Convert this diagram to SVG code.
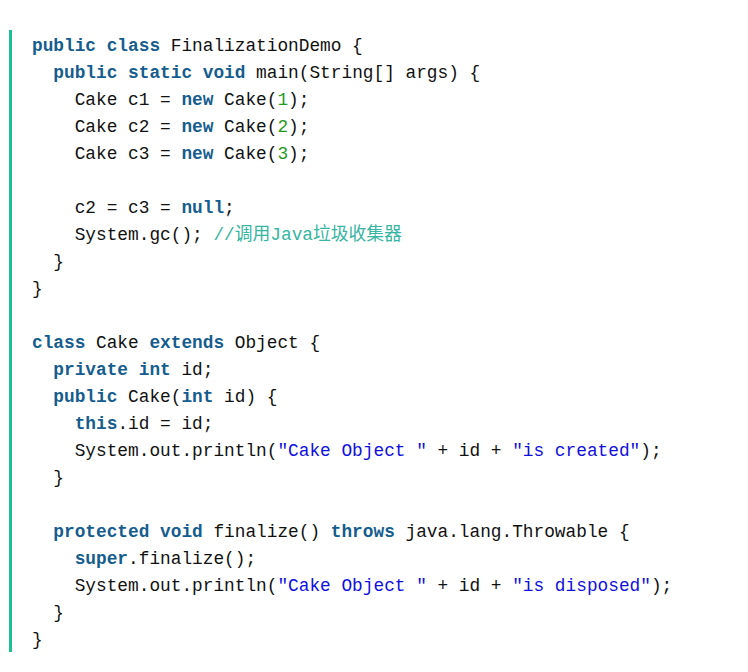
<svg xmlns="http://www.w3.org/2000/svg" width="748" height="672" viewBox="0 0 748 672">
<style>
text{font-family:"Liberation Mono","Noto Sans CJK SC",monospace;font-size:17.8px;fill:#111;white-space:pre}
.k{fill:#155d8e;font-weight:bold}
.n{fill:#1f9a1f}
.s{fill:#1010e0}
.c{fill:#35b5a2}
</style>
<rect width="748" height="672" fill="#fff"/>
<rect x="9" y="30" width="3" height="622" fill="#1bbf93"/>
<g id="code" xml:space="preserve">
<text x="32" y="51"><tspan class="k">public class</tspan> FinalizationDemo {</text>
<text x="32" y="78">  <tspan class="k">public static void</tspan> main(String[] args) {</text>
<text x="32" y="105">    Cake c1 = <tspan class="k">new</tspan> Cake(<tspan class="n">1</tspan>);</text>
<text x="32" y="132">    Cake c2 = <tspan class="k">new</tspan> Cake(<tspan class="n">2</tspan>);</text>
<text x="32" y="159">    Cake c3 = <tspan class="k">new</tspan> Cake(<tspan class="n">3</tspan>);</text>
<text x="32" y="213">    c2 = c3 = <tspan class="k">null</tspan>;</text>
<text x="32" y="240">    System.gc(); <tspan class="c">//调用Java垃圾收集器</tspan></text>
<text x="32" y="267">  }</text>
<text x="32" y="294">}</text>
<text x="32" y="348"><tspan class="k">class</tspan> Cake <tspan class="k">extends</tspan> Object {</text>
<text x="32" y="375">  <tspan class="k">private int</tspan> id;</text>
<text x="32" y="402">  <tspan class="k">public</tspan> Cake(<tspan class="k">int</tspan> id) {</text>
<text x="32" y="429">    <tspan class="k">this</tspan>.id = id;</text>
<text x="32" y="456">    System.out.println(<tspan class="s">"Cake Object "</tspan> + id + <tspan class="s">"is created"</tspan>);</text>
<text x="32" y="483">  }</text>
<text x="32" y="537">  <tspan class="k">protected void</tspan> finalize() <tspan class="k">throws</tspan> java.lang.Throwable {</text>
<text x="32" y="564">    <tspan class="k">super</tspan>.finalize();</text>
<text x="32" y="591">    System.out.println(<tspan class="s">"Cake Object "</tspan> + id + <tspan class="s">"is disposed"</tspan>);</text>
<text x="32" y="618">  }</text>
<text x="32" y="645">}</text>
</g>
</svg>
